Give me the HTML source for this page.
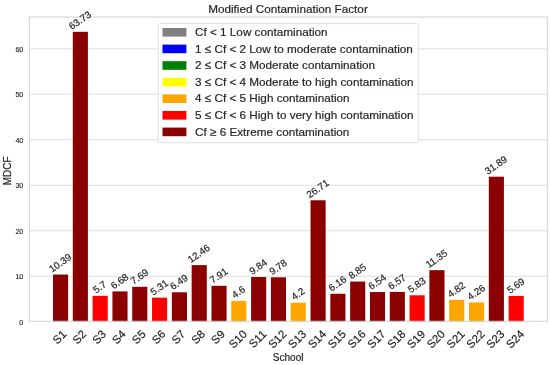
<!DOCTYPE html><html><head><meta charset="utf-8"><style>html,body{margin:0;padding:0;background:#fff;}svg{display:block;filter:blur(0.25px);}text{font-family:"Liberation Sans",Arial,sans-serif;fill:#262626;stroke:#262626;stroke-width:0.2px;}</style></head><body>
<svg width="550" height="365" viewBox="0 0 550 365">
<rect x="0" y="0" width="550" height="365" fill="#fff"/>
<line x1="29.40" x2="547.30" y1="276.30" y2="276.30" stroke="#dedede" stroke-width="1"/>
<line x1="29.40" x2="547.30" y1="230.80" y2="230.80" stroke="#dedede" stroke-width="1"/>
<line x1="29.40" x2="547.30" y1="185.30" y2="185.30" stroke="#dedede" stroke-width="1"/>
<line x1="29.40" x2="547.30" y1="139.80" y2="139.80" stroke="#dedede" stroke-width="1"/>
<line x1="29.40" x2="547.30" y1="94.30" y2="94.30" stroke="#dedede" stroke-width="1"/>
<line x1="29.40" x2="547.30" y1="48.80" y2="48.80" stroke="#dedede" stroke-width="1"/>
<rect x="53.00" y="274.53" width="15.10" height="47.27" fill="#8b0000"/>
<rect x="72.81" y="31.83" width="15.10" height="289.97" fill="#8b0000"/>
<rect x="92.62" y="295.87" width="15.10" height="25.94" fill="#ff0000"/>
<rect x="112.43" y="291.41" width="15.10" height="30.39" fill="#8b0000"/>
<rect x="132.24" y="286.81" width="15.10" height="34.99" fill="#8b0000"/>
<rect x="152.05" y="297.64" width="15.10" height="24.16" fill="#ff0000"/>
<rect x="171.86" y="292.27" width="15.10" height="29.53" fill="#8b0000"/>
<rect x="191.67" y="265.11" width="15.10" height="56.69" fill="#8b0000"/>
<rect x="211.48" y="285.81" width="15.10" height="35.99" fill="#8b0000"/>
<rect x="231.29" y="300.87" width="15.10" height="20.93" fill="#ffa500"/>
<rect x="251.10" y="277.03" width="15.10" height="44.77" fill="#8b0000"/>
<rect x="270.91" y="277.30" width="15.10" height="44.50" fill="#8b0000"/>
<rect x="290.72" y="302.69" width="15.10" height="19.11" fill="#ffa500"/>
<rect x="310.53" y="200.27" width="15.10" height="121.53" fill="#8b0000"/>
<rect x="330.34" y="293.77" width="15.10" height="28.03" fill="#8b0000"/>
<rect x="350.15" y="281.53" width="15.10" height="40.27" fill="#8b0000"/>
<rect x="369.96" y="292.04" width="15.10" height="29.76" fill="#8b0000"/>
<rect x="389.77" y="291.91" width="15.10" height="29.89" fill="#8b0000"/>
<rect x="409.58" y="295.27" width="15.10" height="26.53" fill="#ff0000"/>
<rect x="429.39" y="270.16" width="15.10" height="51.64" fill="#8b0000"/>
<rect x="449.20" y="299.87" width="15.10" height="21.93" fill="#ffa500"/>
<rect x="469.01" y="302.42" width="15.10" height="19.38" fill="#ffa500"/>
<rect x="488.82" y="176.70" width="15.10" height="145.10" fill="#8b0000"/>
<rect x="508.63" y="295.91" width="15.10" height="25.89" fill="#ff0000"/>
<rect x="29.40" y="17.00" width="517.90" height="304.30" fill="none" stroke="#d6d6d6" stroke-width="1.1"/>
<text transform="translate(60.05,262.85) rotate(-35.0)" text-anchor="middle" dy="0.358em" font-size="9.80">10.39</text>
<text transform="translate(79.86,20.15) rotate(-35.0)" text-anchor="middle" dy="0.358em" font-size="9.80">63.73</text>
<text transform="translate(99.67,286.91) rotate(-35.0)" text-anchor="middle" dy="0.358em" font-size="9.80">5.7</text>
<text transform="translate(119.48,281.09) rotate(-35.0)" text-anchor="middle" dy="0.358em" font-size="9.80">6.68</text>
<text transform="translate(139.29,276.49) rotate(-35.0)" text-anchor="middle" dy="0.358em" font-size="9.80">7.69</text>
<text transform="translate(159.10,287.32) rotate(-35.0)" text-anchor="middle" dy="0.358em" font-size="9.80">5.31</text>
<text transform="translate(178.91,281.95) rotate(-35.0)" text-anchor="middle" dy="0.358em" font-size="9.80">6.49</text>
<text transform="translate(198.72,253.43) rotate(-35.0)" text-anchor="middle" dy="0.358em" font-size="9.80">12.46</text>
<text transform="translate(218.53,275.49) rotate(-35.0)" text-anchor="middle" dy="0.358em" font-size="9.80">7.91</text>
<text transform="translate(238.34,291.91) rotate(-35.0)" text-anchor="middle" dy="0.358em" font-size="9.80">4.6</text>
<text transform="translate(258.15,266.71) rotate(-35.0)" text-anchor="middle" dy="0.358em" font-size="9.80">9.84</text>
<text transform="translate(277.96,266.98) rotate(-35.0)" text-anchor="middle" dy="0.358em" font-size="9.80">9.78</text>
<text transform="translate(297.77,293.73) rotate(-35.0)" text-anchor="middle" dy="0.358em" font-size="9.80">4.2</text>
<text transform="translate(317.58,188.59) rotate(-35.0)" text-anchor="middle" dy="0.358em" font-size="9.80">26.71</text>
<text transform="translate(337.39,283.45) rotate(-35.0)" text-anchor="middle" dy="0.358em" font-size="9.80">6.16</text>
<text transform="translate(357.20,271.21) rotate(-35.0)" text-anchor="middle" dy="0.358em" font-size="9.80">8.85</text>
<text transform="translate(377.01,281.73) rotate(-35.0)" text-anchor="middle" dy="0.358em" font-size="9.80">6.54</text>
<text transform="translate(396.82,281.59) rotate(-35.0)" text-anchor="middle" dy="0.358em" font-size="9.80">6.57</text>
<text transform="translate(416.63,284.96) rotate(-35.0)" text-anchor="middle" dy="0.358em" font-size="9.80">5.83</text>
<text transform="translate(436.44,258.66) rotate(-35.0)" text-anchor="middle" dy="0.358em" font-size="9.80">11.35</text>
<text transform="translate(456.25,289.55) rotate(-35.0)" text-anchor="middle" dy="0.358em" font-size="9.80">4.82</text>
<text transform="translate(476.06,292.10) rotate(-35.0)" text-anchor="middle" dy="0.358em" font-size="9.80">4.26</text>
<text transform="translate(495.87,165.02) rotate(-35.0)" text-anchor="middle" dy="0.358em" font-size="9.80">31.89</text>
<text transform="translate(515.68,285.59) rotate(-35.0)" text-anchor="middle" dy="0.358em" font-size="9.80">5.69</text>
<text transform="translate(59.35,336.90) rotate(-45)" text-anchor="middle" dy="0.358em" font-size="11.30">S1</text>
<text transform="translate(79.16,336.90) rotate(-45)" text-anchor="middle" dy="0.358em" font-size="11.30">S2</text>
<text transform="translate(98.97,336.90) rotate(-45)" text-anchor="middle" dy="0.358em" font-size="11.30">S3</text>
<text transform="translate(118.78,336.90) rotate(-45)" text-anchor="middle" dy="0.358em" font-size="11.30">S4</text>
<text transform="translate(138.59,336.90) rotate(-45)" text-anchor="middle" dy="0.358em" font-size="11.30">S5</text>
<text transform="translate(158.40,336.90) rotate(-45)" text-anchor="middle" dy="0.358em" font-size="11.30">S6</text>
<text transform="translate(178.21,336.90) rotate(-45)" text-anchor="middle" dy="0.358em" font-size="11.30">S7</text>
<text transform="translate(198.02,336.90) rotate(-45)" text-anchor="middle" dy="0.358em" font-size="11.30">S8</text>
<text transform="translate(217.83,336.90) rotate(-45)" text-anchor="middle" dy="0.358em" font-size="11.30">S9</text>
<text transform="translate(237.64,339.12) rotate(-45)" text-anchor="middle" dy="0.358em" font-size="11.30">S10</text>
<text transform="translate(257.45,338.83) rotate(-45)" text-anchor="middle" dy="0.358em" font-size="11.30">S11</text>
<text transform="translate(277.26,339.12) rotate(-45)" text-anchor="middle" dy="0.358em" font-size="11.30">S12</text>
<text transform="translate(297.07,339.12) rotate(-45)" text-anchor="middle" dy="0.358em" font-size="11.30">S13</text>
<text transform="translate(316.88,339.12) rotate(-45)" text-anchor="middle" dy="0.358em" font-size="11.30">S14</text>
<text transform="translate(336.69,339.12) rotate(-45)" text-anchor="middle" dy="0.358em" font-size="11.30">S15</text>
<text transform="translate(356.50,339.12) rotate(-45)" text-anchor="middle" dy="0.358em" font-size="11.30">S16</text>
<text transform="translate(376.31,339.12) rotate(-45)" text-anchor="middle" dy="0.358em" font-size="11.30">S17</text>
<text transform="translate(396.12,339.12) rotate(-45)" text-anchor="middle" dy="0.358em" font-size="11.30">S18</text>
<text transform="translate(415.93,339.12) rotate(-45)" text-anchor="middle" dy="0.358em" font-size="11.30">S19</text>
<text transform="translate(435.74,339.12) rotate(-45)" text-anchor="middle" dy="0.358em" font-size="11.30">S20</text>
<text transform="translate(455.55,339.12) rotate(-45)" text-anchor="middle" dy="0.358em" font-size="11.30">S21</text>
<text transform="translate(475.36,339.12) rotate(-45)" text-anchor="middle" dy="0.358em" font-size="11.30">S22</text>
<text transform="translate(495.17,339.12) rotate(-45)" text-anchor="middle" dy="0.358em" font-size="11.30">S23</text>
<text transform="translate(514.98,339.12) rotate(-45)" text-anchor="middle" dy="0.358em" font-size="11.30">S24</text>
<text transform="translate(23.3,322.00) scale(1,1.12)" text-anchor="end" dy="0.358em" font-size="7.10" style="stroke-width:0.12px">0</text>
<text transform="translate(23.3,276.50) scale(1,1.12)" text-anchor="end" dy="0.358em" font-size="7.10" style="stroke-width:0.12px">10</text>
<text transform="translate(23.3,231.00) scale(1,1.12)" text-anchor="end" dy="0.358em" font-size="7.10" style="stroke-width:0.12px">20</text>
<text transform="translate(23.3,185.50) scale(1,1.12)" text-anchor="end" dy="0.358em" font-size="7.10" style="stroke-width:0.12px">30</text>
<text transform="translate(23.3,140.00) scale(1,1.12)" text-anchor="end" dy="0.358em" font-size="7.10" style="stroke-width:0.12px">40</text>
<text transform="translate(23.3,94.50) scale(1,1.12)" text-anchor="end" dy="0.358em" font-size="7.10" style="stroke-width:0.12px">50</text>
<text transform="translate(23.3,49.00) scale(1,1.12)" text-anchor="end" dy="0.358em" font-size="7.10" style="stroke-width:0.12px">60</text>
<text x="288.15" y="360.6" text-anchor="middle" font-size="10">School</text>
<text transform="translate(7.15,170.9) rotate(-90)" text-anchor="middle" dy="0.358em" font-size="10">MDCF</text>
<text x="288" y="13.2" text-anchor="middle" font-size="11.72">Modified Contamination Factor</text>
<rect x="158.20" y="23.60" width="260.10" height="119.10" rx="2" ry="2" fill="#fff" fill-opacity="0.8" stroke="#e0e0e0" stroke-width="1"/>
<rect x="162.5" y="28.00" width="23.9" height="8.6" fill="#808080"/>
<text x="195.0" y="36.00" font-size="11.73">Cf &lt; 1 Low contamination</text>
<rect x="162.5" y="44.60" width="23.9" height="8.6" fill="#0000ff"/>
<text x="195.0" y="52.60" font-size="11.73">1 ≤ Cf &lt; 2 Low to moderate contamination</text>
<rect x="162.5" y="61.20" width="23.9" height="8.6" fill="#008000"/>
<text x="195.0" y="69.20" font-size="11.73">2 ≤ Cf &lt; 3 Moderate contamination</text>
<rect x="162.5" y="77.80" width="23.9" height="8.6" fill="#ffff00"/>
<text x="195.0" y="85.80" font-size="11.73">3 ≤ Cf &lt; 4 Moderate to high contamination</text>
<rect x="162.5" y="94.40" width="23.9" height="8.6" fill="#ffa500"/>
<text x="195.0" y="102.40" font-size="11.73">4 ≤ Cf &lt; 5 High contamination</text>
<rect x="162.5" y="111.00" width="23.9" height="8.6" fill="#ff0000"/>
<text x="195.0" y="119.00" font-size="11.73">5 ≤ Cf &lt; 6 High to very high contamination</text>
<rect x="162.5" y="127.60" width="23.9" height="8.6" fill="#8b0000"/>
<text x="195.0" y="135.60" font-size="11.73">Cf ≥ 6 Extreme contamination</text>
</svg></body></html>
